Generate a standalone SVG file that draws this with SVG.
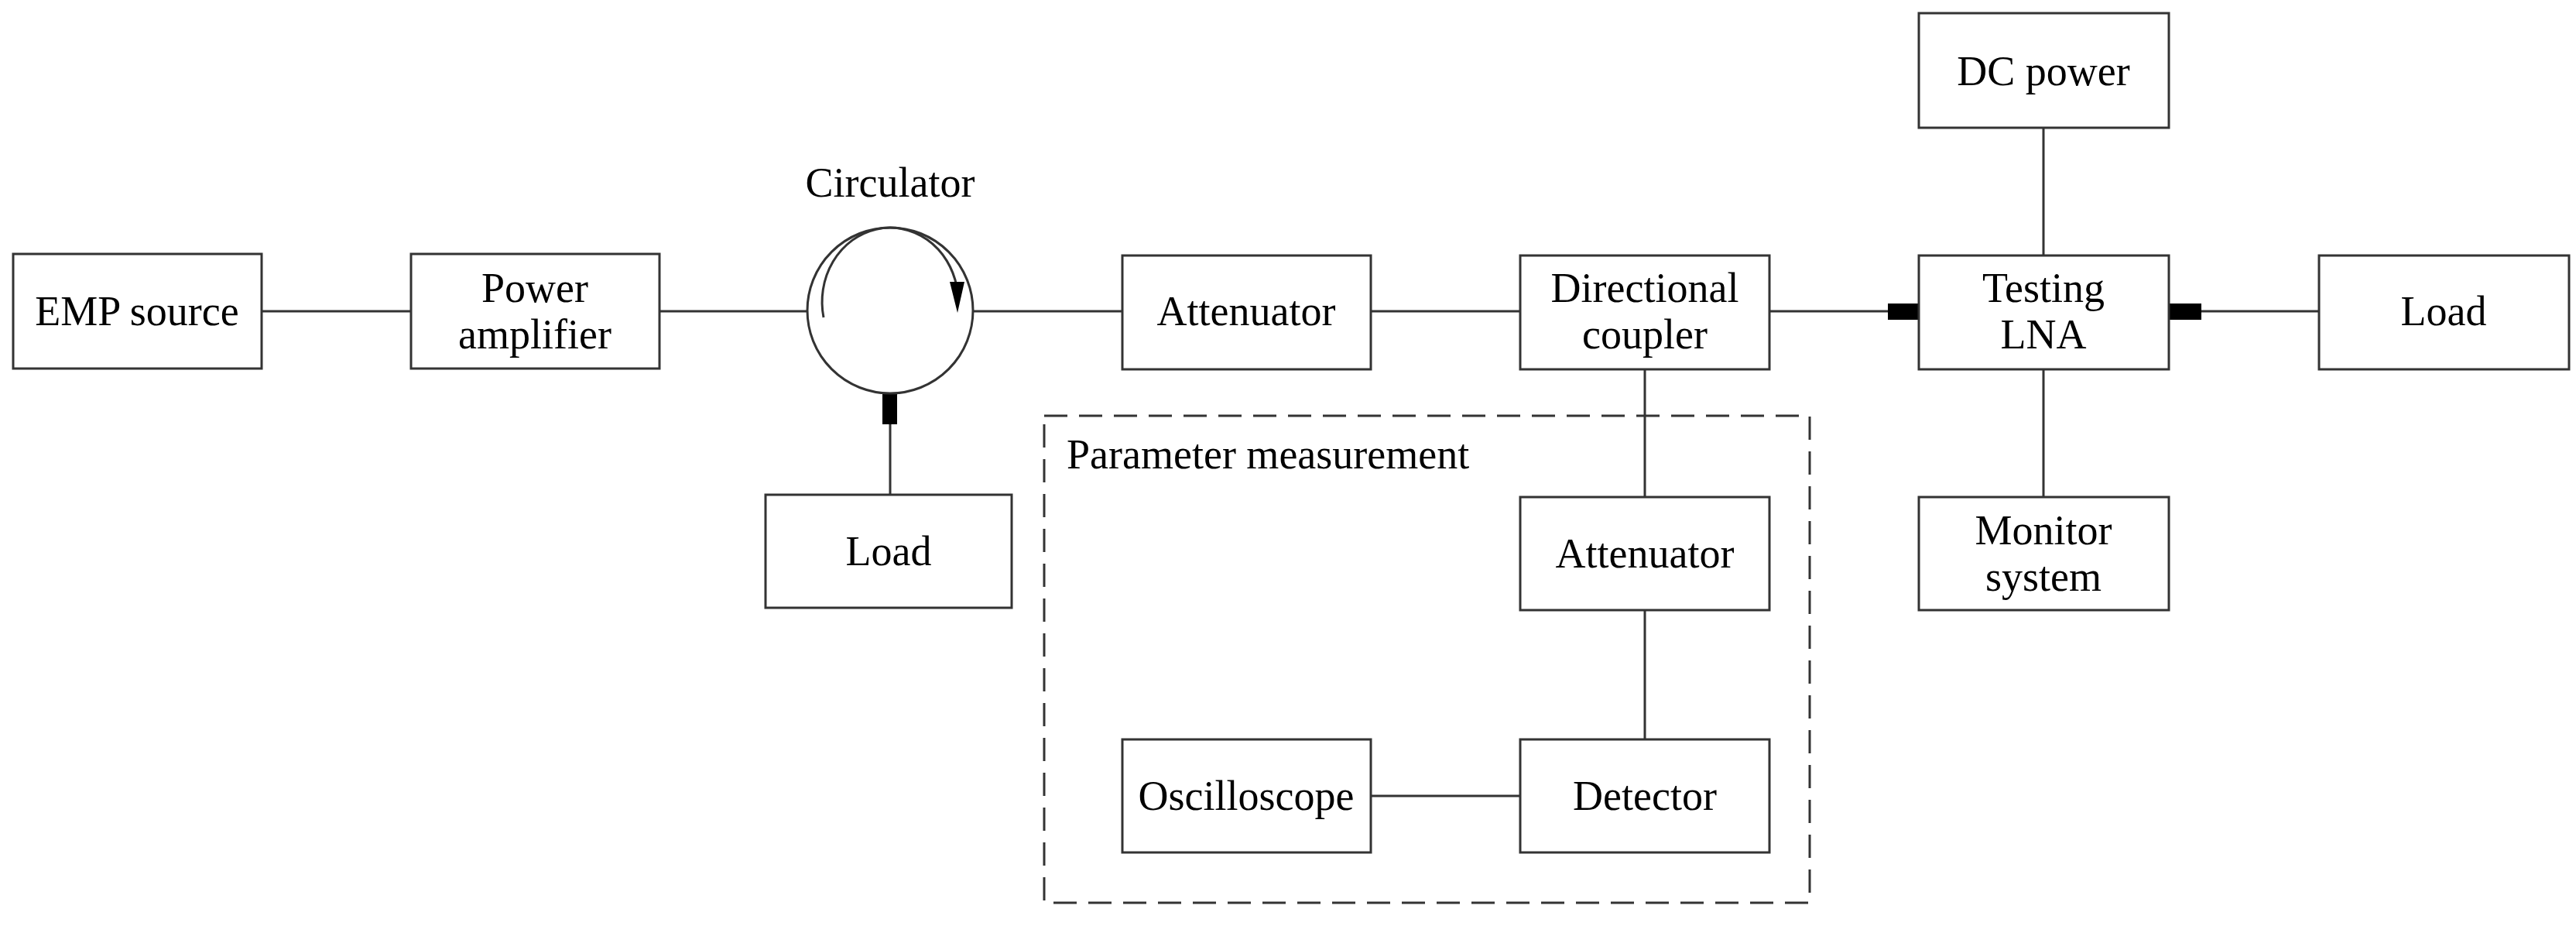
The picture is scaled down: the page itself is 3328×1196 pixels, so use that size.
<svg xmlns="http://www.w3.org/2000/svg" width="3328" height="1196" viewBox="0 0 3328 1196">
<style>
.b{fill:#fff;stroke:#333;stroke-width:3}
.t{font-family:"Liberation Serif",serif;font-size:54px;fill:#000;text-anchor:middle}
.c{stroke:#333;stroke-width:3;fill:none}
</style>
<rect width="3328" height="1196" fill="#fff"/>
<g id="connectors">
<path class="c" d="M338 402H531M852 402H1043M1257 402H1450M1771 402H1964M2286 402H2439M2844 402H2996M2640 165V330M2640 477V642M2125 477V642M2125 788V955M1771 1028H1964M1150 548V639"/>
<rect x="2439" y="392" width="40" height="21" fill="#000"/>
<rect x="2802" y="392" width="42" height="21" fill="#000"/>
<rect x="1140" y="508" width="19" height="40" fill="#000"/>
</g>
<g id="param"><rect x="1349" y="537" width="989" height="629" fill="none" stroke="#333" stroke-width="3" stroke-dasharray="30,15"/><text class="t" x="1378" y="605" text-anchor="start" style="text-anchor:start">Parameter measurement</text></g>
<g id="emp"><rect class="b" x="17" y="328" width="321" height="148"/><text class="t" x="177" y="420">EMP source</text></g>
<g id="pa"><rect class="b" x="531" y="328" width="321" height="148"/><text class="t" x="691" y="390">Power</text><text class="t" x="691" y="450">amplifier</text></g>
<g id="circulator"><ellipse cx="1150" cy="401" rx="107" ry="107" fill="#fff" stroke="#333" stroke-width="3"/><path class="c" d="M1064 410A87 95 0 0 1 1236 370"/><polygon points="1227,364 1246,364 1237,404" fill="#000"/><text class="t" x="1150" y="254">Circulator</text></g>
<g id="load1"><rect class="b" x="989" y="639" width="318" height="146"/><text class="t" x="1148" y="730">Load</text></g>
<g id="att1"><rect class="b" x="1450" y="330" width="321" height="147"/><text class="t" x="1610" y="420">Attenuator</text></g>
<g id="coupler"><rect class="b" x="1964" y="330" width="322" height="147"/><text class="t" x="2125" y="390">Directional</text><text class="t" x="2125" y="450">coupler</text></g>
<g id="lna"><rect class="b" x="2479" y="330" width="323" height="147"/><text class="t" x="2640" y="390">Testing</text><text class="t" x="2640" y="450">LNA</text></g>
<g id="load2"><rect class="b" x="2996" y="330" width="323" height="147"/><text class="t" x="3157" y="420">Load</text></g>
<g id="dcpower"><rect class="b" x="2479" y="17" width="323" height="148"/><text class="t" x="2640" y="110">DC power</text></g>
<g id="monitor"><rect class="b" x="2479" y="642" width="323" height="146"/><text class="t" x="2640" y="703">Monitor</text><text class="t" x="2640" y="763">system</text></g>
<g id="att2"><rect class="b" x="1964" y="642" width="322" height="146"/><text class="t" x="2125" y="733">Attenuator</text></g>
<g id="osc"><rect class="b" x="1450" y="955" width="321" height="146"/><text class="t" x="1610" y="1046">Oscilloscope</text></g>
<g id="detector"><rect class="b" x="1964" y="955" width="322" height="146"/><text class="t" x="2125" y="1046">Detector</text></g>
</svg>
